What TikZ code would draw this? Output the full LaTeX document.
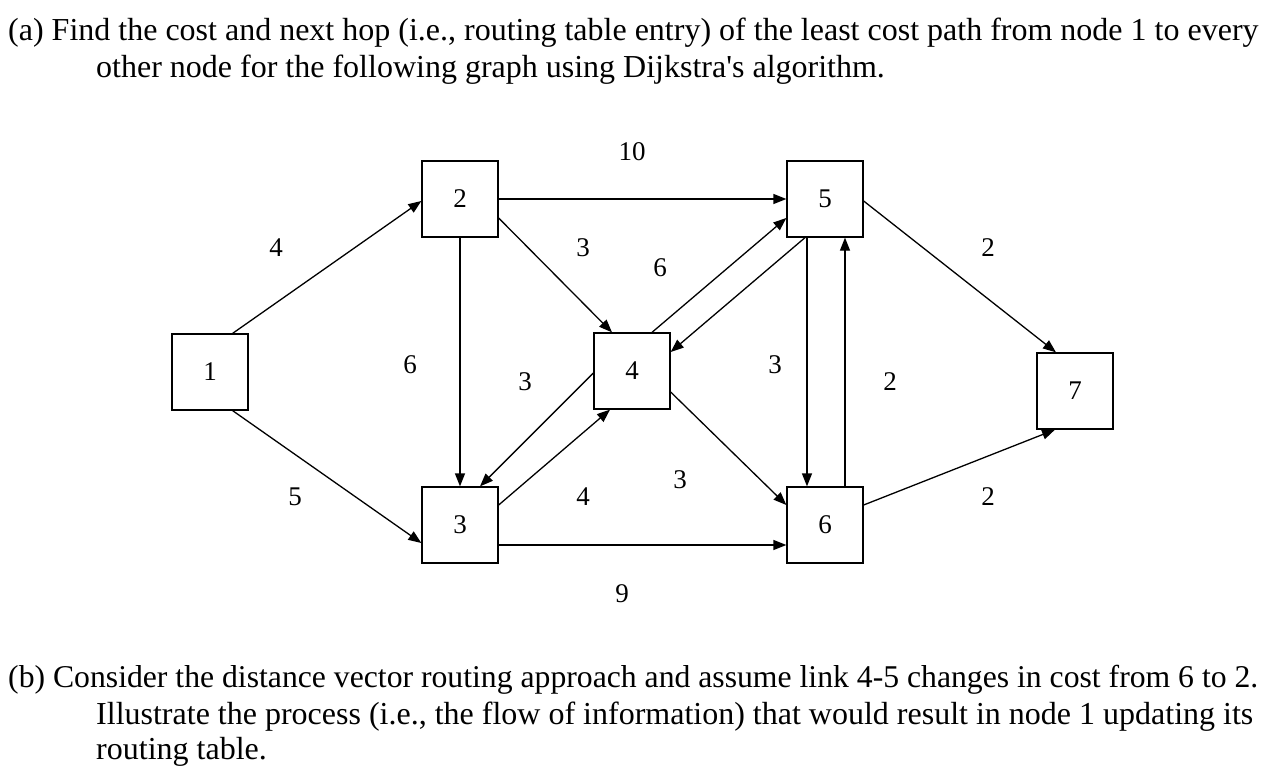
\documentclass[tikz,border=0pt]{standalone}
\usepackage{fontspec}
\setmainfont{Liberation Serif}[Ligatures=NoCommon]
\usetikzlibrary{arrows.meta}
\begin{document}
\begin{tikzpicture}[x=1pt,y=-1pt,
  box/.style={draw,line width=1.3pt,minimum size=76pt,inner sep=0pt,font=\fontsize{27}{30}\selectfont},
  lab/.style={font=\fontsize{27}{30}\selectfont},
  txt/.style={anchor=west,inner sep=0pt,font=\fontsize{32}{37}\selectfont},
  e/.style={line width=1.3pt,-{Triangle[length=13pt,width=10pt]}}]
\useasboundingbox (0,0) rectangle (1277,777);
\node[box] (n1) at (210,372) {1};
\node[box] (n2) at (460,199) {2};
\node[box] (n3) at (460,525) {3};
\node[box] (n4) at (632,371) {4};
\node[box] (n5) at (825,199) {5};
\node[box] (n6) at (825,525) {6};
\node[box] (n7) at (1075,391) {7};
\draw[e] ([xshift=-16pt]n1.north east) -- ([yshift=-2pt]n2.west);
\draw[e] ([xshift=-16pt]n1.south east) -- ([yshift=-18pt]n3.west);
\draw[e] (n2.east) -- (n5.west);
\draw[e] ([yshift=-19pt]n2.east) -- ([xshift=-20pt]n4.north);
\draw[e] (n2.south) -- (n3.north);
\draw[e] ([yshift=-2pt]n4.west) -- ([xshift=20pt]n3.north);
\draw[e] ([yshift=20pt]n3.east) -- ([xshift=-22pt]n4.south);
\draw[e] ([yshift=-20pt]n3.east) -- ([yshift=-20pt]n6.west);
\draw[e] ([yshift=-21pt]n4.east) -- ([yshift=20pt]n6.west);
\draw[e] ([xshift=20pt]n4.north) -- ([yshift=-19pt]n5.west);
\draw[e] ([xshift=-20pt]n5.south) -- ([yshift=19pt]n4.east);
\draw[e] ([xshift=-18pt]n5.south) -- ([xshift=-18pt]n6.north);
\draw[e] ([xshift=20pt]n6.north) -- ([xshift=20pt]n5.south);
\draw[e] ([yshift=-2pt]n5.east) -- ([xshift=-19pt]n7.north);
\draw[e] ([yshift=20pt]n6.east) -- ([xshift=-20pt]n7.south);
\foreach \t/\x/\y in {10/632/152,4/276/248,3/583/248,6/660/268,2/988/248,6/410/365,3/525/382,3/775/365,2/890/382,5/295/497,4/583/497,3/680/480,2/988/497,9/622/594}
  \node[lab] at (\x,\y) {\t};
\node[txt] at (8,33) {(a) Find the cost and next hop (i.e., routing table entry) of the least cost path from node 1 to every};
\node[txt] at (96,70) {other node for the following graph using Dijkstra\textquotesingle s algorithm.};
\node[txt,font=\fontsize{31.7}{37}\selectfont] at (8,680) {(b) Consider the distance vector routing approach and assume link 4-5 changes in cost from 6 to 2.};
\node[txt] at (96,717) {Illustrate the process (i.e., the flow of information) that would result in node 1 updating its};
\node[txt] at (96,752) {routing table.};
\end{tikzpicture}
\end{document}
